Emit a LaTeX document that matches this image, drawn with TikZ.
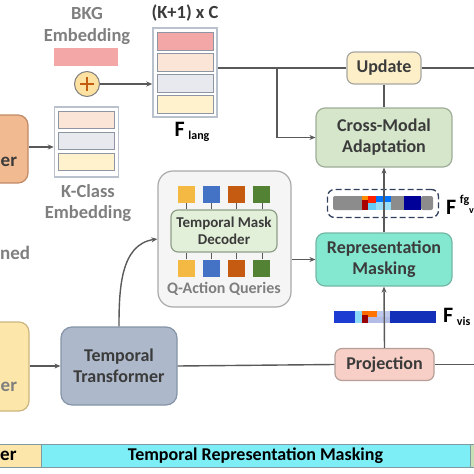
\documentclass[tikz,border=0pt]{standalone}
\usepackage{fontspec}
\setmainfont{Carlito}
\usetikzlibrary{arrows.meta,shapes,positioning}

\definecolor{linec}{HTML}{595959}
\definecolor{txtdark}{HTML}{3B3B3B}
\definecolor{txtgray}{HTML}{7F7F7F}
\definecolor{peach}{HTML}{FBE5D6}
\definecolor{greyst}{HTML}{E7E9EF}
\definecolor{yellst}{HTML}{FFF2CC}
\definecolor{pinkst}{HTML}{F4A7A7}
\definecolor{embline}{HTML}{B9C1CD}
\definecolor{stline}{HTML}{8E96A3}
\definecolor{hblue}{HTML}{1C3CD2}
\definecolor{hdblue}{HTML}{1530B8}
\definecolor{hgray}{HTML}{8C8C8C}
\definecolor{encfill}{HTML}{F2BA90}
\definecolor{encline}{HTML}{C08A66}
\definecolor{vidfill}{HTML}{FCE6AA}
\definecolor{vidline}{HTML}{CDB580}
\definecolor{plusfill}{HTML}{FCE1A0}
\definecolor{plusc}{HTML}{C55A11}
\definecolor{updfill}{HTML}{FDF0C9}
\definecolor{updline}{HTML}{A6A6A0}
\definecolor{crossfill}{HTML}{D5E6CB}
\definecolor{crossline}{HTML}{9FAE98}
\definecolor{ttfill}{HTML}{ADB9CA}
\definecolor{ttline}{HTML}{8593A8}
\definecolor{projfill}{HTML}{F7CFC6}
\definecolor{projline}{HTML}{B59F98}
\definecolor{maskfill}{HTML}{84E8D0}
\definecolor{maskline}{HTML}{73B8A6}
\definecolor{qfill}{HTML}{F5F5F5}
\definecolor{qline}{HTML}{A9A9A9}
\definecolor{decfill}{HTML}{E2EFD9}
\definecolor{decline}{HTML}{8F9F88}
\definecolor{stagecyan}{HTML}{7DEEF6}
\definecolor{stagegreen}{HTML}{C5E0B4}
\definecolor{stageline}{HTML}{7F9AA2}
\definecolor{dashc}{HTML}{2F3F5C}

\begin{document}
\begin{tikzpicture}[x=1pt,y=-1pt,
    blk/.style={draw, rounded corners=7pt, line width=1.2pt, align=center,
      inner sep=0pt, text=txtdark, font=\fontsize{18}{20}\selectfont\bfseries},
    lbl/.style={inner sep=0pt, align=center, text=txtgray,
      font=\fontsize{18.5}{21.5}\selectfont\bfseries},
    embbox/.style={draw=embline, line width=1.5pt, fill=white, inner sep=0pt},
    stripe/.style={draw=stline, line width=0.7pt, minimum width=56, minimum height=17, inner sep=0pt},
    query/.style={minimum size=17, inner sep=0pt},
    conn/.style={draw=linec, line width=1.4pt},
    arr/.style={conn, -{Stealth[length=6pt,width=5pt]}}]
\useasboundingbox (0,0) rectangle (474,474);

% text embedding side
\node[blk, fill=encfill, draw=encline, minimum width=68, minimum height=68, rounded corners=10pt] (tenc) at (-6,149) {};
\node[inner sep=0pt, text=txtdark, font=\fontsize{19}{21}\selectfont\bfseries, anchor=west] (tenctxt) at (0.5,162) {er};
\node[embbox, minimum width=64, minimum height=70] (kcls) at (86.5,142) {};
\foreach \c [count=\i] in {peach,greyst,yellst}
  \node[stripe, fill=\c] at (86.5,99+21*\i) {};
\node[lbl] (kclstxt) at (88,203) {K-Class\\Embedding};

\node[lbl] (bkgtxt) at (87,26) {BKG\\Embedding};
\node[fill=pinkst, minimum width=64, minimum height=18, inner sep=0pt] (bkg) at (86,57) {};
\node[circle, draw=gray, fill=plusfill, line width=1pt, minimum size=25, inner sep=0pt] (plus) at (87,84) {};
\draw[plusc, line width=2pt] (plus.center) ++(-7,0) -- ++(14,0);
\draw[plusc, line width=2pt] (plus.center) ++(0,-7) -- ++(0,14);

\node[embbox, minimum width=64, minimum height=89] (flang) at (185,72.5) {};
\foreach \c [count=\i] in {pinkst,peach,greyst,yellst}
  \node[stripe, fill=\c, minimum height=18] at (185,20+21*\i) {};
\node[inner sep=0pt, text=txtdark, font=\fontsize{18.5}{21}\selectfont\bfseries] (kc) at (185,13) {(K+1) x C};
\node[inner sep=0pt, font=\fontsize{22}{24}\selectfont\bfseries] (flangtxt) at (192,132) {F\,\raisebox{-0.35ex}{\fontsize{12}{13}\selectfont lang}};

\draw[arr] (tenc.east |- 0,147) -- (kcls.west |- 0,147);
\draw[arr] (plus) -- (flang.west |- plus);

% language branch
\node[blk, fill=updfill, draw=updline, minimum width=74, minimum height=32] (update) at (384,68) {Update};
\node[blk, fill=crossfill, draw=crossline, minimum width=136, minimum height=59, rounded corners=9pt] (cross) at (384,137.5) {Cross-Modal\\[1pt]Adaptation};
\coordinate (rtop) at (474,68);
\coordinate (br) at (277,68);
\draw[conn] (flang.east |- update) -- (update.west);
\draw[conn] (update.east) -- (rtop);
\draw[arr] (br) |- (cross.west);
\draw[conn] (update.south) -- (cross.north);

% visual branch
\node[blk, fill=vidfill, draw=vidline, minimum width=69, minimum height=89, rounded corners=10pt] (venc) at (-5.5,366.5) {};
\node[inner sep=0pt, text=txtgray, font=\fontsize{19}{21}\selectfont\bfseries, anchor=west] (venctxt) at (0.5,387) {er};
\node[inner sep=0pt, text=txtgray, font=\fontsize{19}{21}\selectfont\bfseries, anchor=west] (nedtxt) at (0,253) {ned};
\node[blk, fill=ttfill, draw=ttline, minimum width=116, minimum height=78, rounded corners=11pt] (tt) at (119,366) {Temporal\\[1pt]Transformer};
\node[blk, fill=projfill, draw=projline, minimum width=99, minimum height=32] (proj) at (384.5,364.5) {Projection};
\node[blk, fill=maskfill, draw=maskline, minimum width=136, minimum height=53, rounded corners=9pt] (rmask) at (384,259.5) {Representation\\[1pt]Masking};
\coordinate (rbot) at (474,364.5);
\draw[arr] (venc.east |- tt) -- (tt.west);
\draw[conn] (tt.east) -- (proj.west);
\draw[conn] (proj.east) -- (rbot);

% query decoder
\node[draw=qline, fill=qfill, line width=1.2pt, rounded corners=15pt, minimum width=133, minimum height=136, inner sep=0pt] (qbox) at (224.5,239) {};
\node[blk, fill=decfill, draw=decline, minimum width=106, minimum height=42, font=\fontsize{15}{17.5}\selectfont\bfseries] (dec) at (224,231) {Temporal Mask\\Decoder};
\foreach \c [count=\i] in {F4B942,4472C4,C55A11,548235} {
  \definecolor{qc}{HTML}{\c}
  \node[query, fill=qc] (qt\i) at (186+25.3*\i-25.3,194.5) {};
  \node[query, fill=qc] (qb\i) at (186+25.3*\i-25.3,268) {};
  \draw[linec, line width=0.8pt] (qt\i.south) -- (qt\i.south |- dec.north);
  \draw[linec, line width=0.8pt] (qb\i.north) -- (qb\i.north |- dec.south);
}
\node[lbl, font=\fontsize{16}{18}\selectfont\bfseries] (qtxt) at (224,289) {Q-Action Queries};
\draw[arr] (tt.north) to[out=90,in=188] (qbox.west |- 0,239);
\draw[arr] (qbox.east |- rmask) -- (rmask.west);

% feature maps
\fill[hblue] (334,311) rectangle (390,323);
\fill[hdblue] (390,311) rectangle (436,323);
\fill[cyan!45!white] (355,311) rectangle (362,323);
\fill[red!60!black] (362,311) rectangle (368,323);
\fill[orange!85!red] (362,311) rectangle (368,315);
\fill[orange!90!red] (368,311) rectangle (377,317);
\fill[cyan!35!blue!30!white] (368,317) rectangle (390,323);
\fill[cyan!40!blue!25!white] (377,311) rectangle (390,317);
\node[inner sep=0pt, font=\fontsize{22}{24}\selectfont\bfseries, anchor=west] (fvis) at (443,317) {F\,\raisebox{-0.35ex}{\fontsize{12}{13}\selectfont vis}};

\node[draw=dashc, dashed, dash pattern=on 6pt off 3pt, line width=1.3pt, rounded corners=7pt, minimum width=111, minimum height=28, inner sep=0pt] (fgbox) at (383,203.5) {};
\fill[hgray, rounded corners=2pt] (333,196) rectangle (364,210);
\fill[red!65!black] (362,196) rectangle (368,210);
\fill[orange!90!yellow] (362,196) rectangle (368,200);
\fill[red!75!orange] (368,196) rectangle (376,203);
\fill[cyan!60!white] (368,203) rectangle (376,210);
\fill[blue!55!cyan] (376,196) rectangle (391,202);
\fill[cyan!40!white] (376,202) rectangle (391,210);
\fill[hgray] (391,196) rectangle (404,210);
\fill[blue!60!black] (404,196) rectangle (421,210);
\fill[hgray, rounded corners=2pt] (421,196) rectangle (433,210);
\node[inner sep=0pt, font=\fontsize{22}{24}\selectfont\bfseries, anchor=west] (ffg) at (446,205) {F\,\raisebox{1.0ex}{\fontsize{12}{13}\selectfont fg}\raisebox{0.1ex}{\fontsize{10}{11}\selectfont v}};

\draw[arr] (rmask.north) -- (cross.south);
\draw[arr] (proj.north) -- (rmask.south);

% bottom stage bar
\node[draw=stageline, line width=1pt, fill=vidfill, minimum width=60, minimum height=23, inner sep=0pt] (stage1) at (11,455.5) {};
\node[inner sep=0pt, font=\fontsize{19}{21}\selectfont\bfseries, anchor=west] (stage1txt) at (0,456) {er};
\node[draw=stageline, line width=1pt, fill=stagecyan, minimum width=429, minimum height=23, inner sep=0pt, font=\fontsize{18}{20}\selectfont\bfseries] (stage2) at (255.5,455.5) {Temporal Representation Masking};
\node[draw=stageline, line width=1pt, fill=stagegreen, minimum width=20, minimum height=23, inner sep=0pt] (stage3) at (480,455.5) {};
\end{tikzpicture}
\end{document}
